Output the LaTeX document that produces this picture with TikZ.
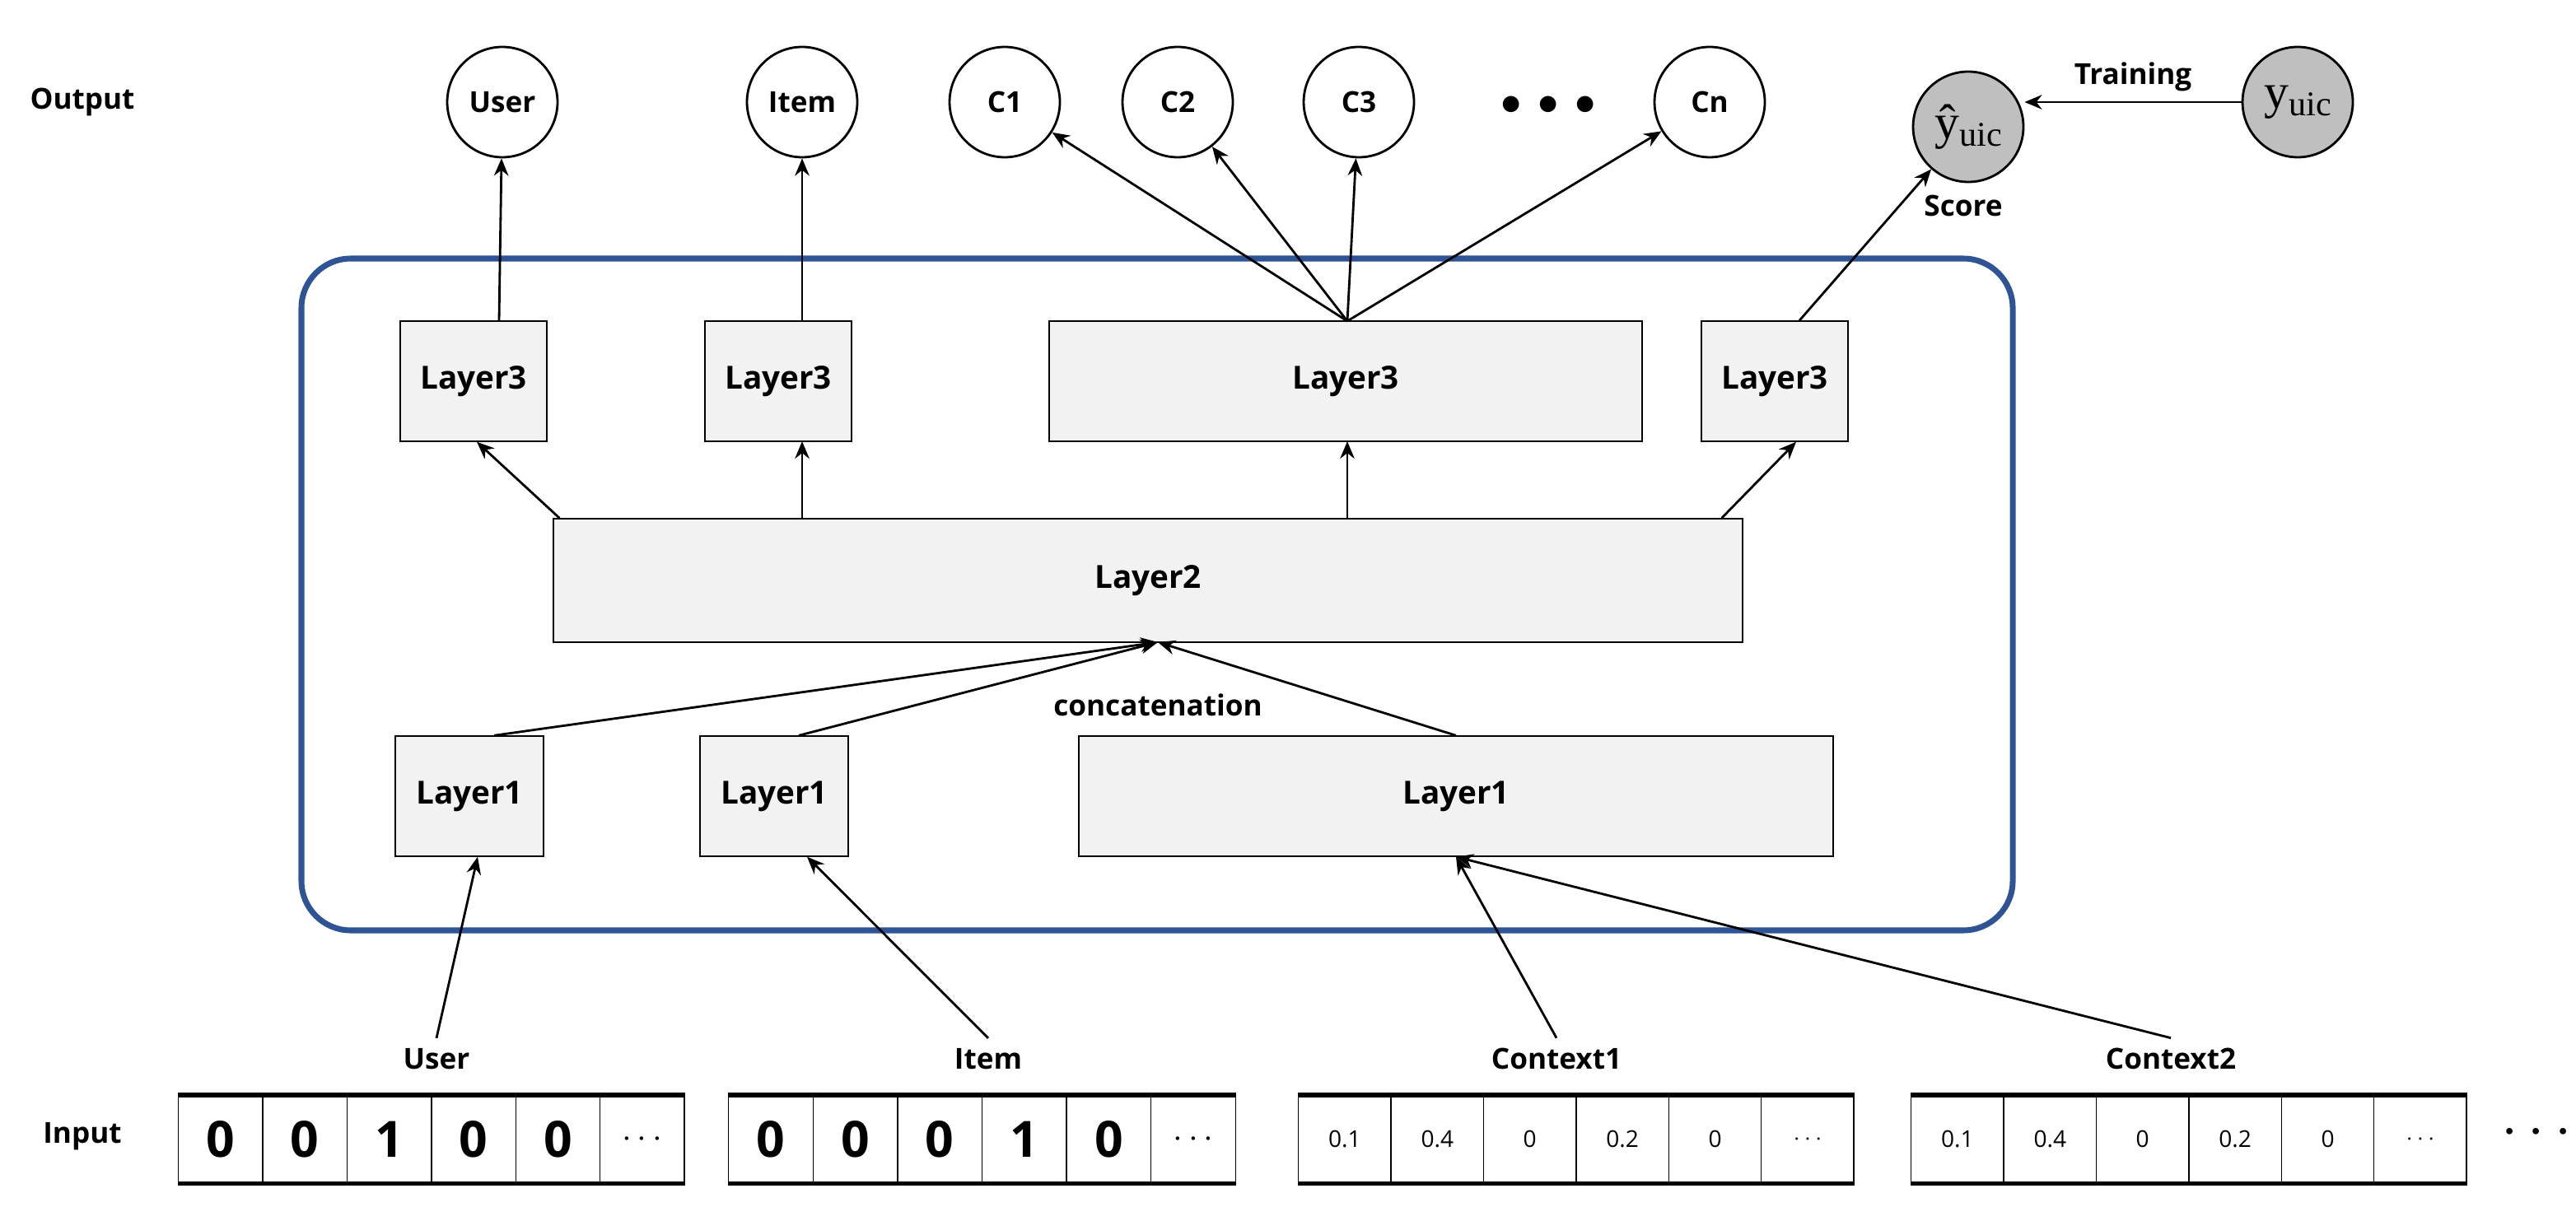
\documentclass[tikz,border=0pt]{standalone}
\usepackage{fontspec}
\setmainfont{Open Sans}
\newfontfamily\serif{Liberation Serif}
\usetikzlibrary{positioning,arrows.meta,calc}
\definecolor{boxblue}{RGB}{47,84,150}
\definecolor{boxgray}{RGB}{242,242,242}
\definecolor{outgray}{RGB}{191,191,191}
\tikzstyle{arr}=[-{Stealth[length=6pt,width=5pt]}, thick]
\tikzstyle{layerbox}=[draw, fill=boxgray, font=\fontsize{11}{13}\selectfont\bfseries, inner sep=0pt]
\tikzstyle{outnode}=[draw, thick, circle, minimum size=1.34cm, font=\fontsize{10}{12}\selectfont\bfseries, inner sep=0pt]
\tikzstyle{lbl}=[font=\fontsize{10}{12}\selectfont\bfseries]
\tikzstyle{cellbox}=[draw, minimum height=1.06cm, inner sep=0pt]
\newcommand{\yuic}[1]{{\serif\mdseries\fontsize{17}{19}\selectfont #1\raisebox{-0.35ex}{\fontsize{12}{13}\selectfont uic}}}
\newcommand{\vect}[5]{% name, left x, top y, cell width, entries
  \foreach \v [count=\i] in {#5} {
    \node[cellbox, minimum width={#4*0.02cm}, anchor=north west] (#1\i) at ({#2+(\i-1)*#4},#3) {\v};
  }
  \draw[line width=1.6pt] (#11.north west) -- (#16.north east);
  \draw[line width=1.6pt] (#11.south west) -- (#16.south east);
}
\begin{document}
\begin{tikzpicture}[x=0.02cm, y=-0.02cm]
  \useasboundingbox (0,0) rectangle (1564,733);

  % labels on the left
  \node[lbl] (outlabel) at (50,62) {Output};
  \node[lbl] (inlabel) at (50,690) {Input};

  % model frame
  \draw[boxblue, line width=2pt, rounded corners=0.6cm] (183,157) rectangle (1222,565);

  % output nodes
  \node[outnode] (ouser) at (305,62) {User};
  \node[outnode] (oitem) at (487,62) {Item};
  \node[outnode] (c1) at (610,62) {C1};
  \node[outnode] (c2) at (715,62) {C2};
  \node[outnode] (c3) at (825,62) {C3};
  \node[font=\Large\bfseries] (cdots) at (940,64) {$\bullet\,\bullet\,\bullet$};
  \node[outnode] (cn) at (1038,62) {Cn};
  \node[outnode, fill=outgray] (yhat) at (1195,77) {\yuic{\^{y}}};
  \node[outnode, fill=outgray] (ytrue) at (1395,62) {\yuic{y}};
  \node[lbl] (score) at (1192,125) {Score};
  \draw[arr] (ytrue.west) -- node[lbl, above] {Training} (yhat.east |- ytrue.west);

  % layer 3
  \node[layerbox, minimum width=1.78cm, minimum height=1.46cm] (l3a) at (287.5,231.5) {Layer3};
  \node[layerbox, minimum width=1.78cm, minimum height=1.46cm] (l3b) at (472.5,231.5) {Layer3};
  \node[layerbox, minimum width=7.2cm, minimum height=1.46cm] (l3c) at (817,231.5) {Layer3};
  \node[layerbox, minimum width=1.78cm, minimum height=1.46cm] (l3d) at (1077.5,231.5) {Layer3};

  % layer 2
  \node[layerbox, minimum width=14.44cm, minimum height=1.5cm] (l2) at (697,352.5) {Layer2};

  % layer 1
  \node[layerbox, minimum width=1.8cm, minimum height=1.46cm] (l1a) at (285,483.5) {Layer1};
  \node[layerbox, minimum width=1.8cm, minimum height=1.46cm] (l1b) at (470,483.5) {Layer1};
  \node[layerbox, minimum width=9.16cm, minimum height=1.46cm] (l1c) at (884,483.5) {Layer1};
  \node[lbl] (concat) at (703,428) {concatenation};

  % layer1 -> layer2
  \coordinate (join) at (703,390);
  \draw[arr] ($(l1a.north)+(15,0)$) -- (join);
  \draw[arr] ($(l1b.north)+(15,0)$) -- (join);
  \draw[arr] (l1c.north) -- (join);

  % layer2 -> layer3
  \draw[arr] ($(l2.north west)+(4,0)$) -- ($(l3a.south)+(2,0)$);
  \draw[arr] (487,315) -- (487,268);
  \draw[arr] (818,315) -- (818,268);
  \draw[arr] ($(l2.north east)+(-13,0)$) -- ($(l3d.south)+(13,0)$);

  % layer3 -> outputs
  \draw[arr] (303,195) -- (ouser);
  \draw[arr] (487,195) -- (oitem);
  \coordinate (fan) at (818,195);
  \draw[arr] (fan) -- (c1);
  \draw[arr] (fan) -- (c2);
  \draw[arr] (fan) -- (c3);
  \draw[arr] (fan) -- (cn);
  \draw[arr] ($(l3d.north)+(15,0)$) -- (yhat);

  % input vectors
  \vect{vu}{108}{665}{51.2}{\LARGE\bfseries 0,\LARGE\bfseries 0,\LARGE\bfseries 1,\LARGE\bfseries 0,\LARGE\bfseries 0,\large$\cdots$}
  \vect{vi}{442}{665}{51.3}{\LARGE\bfseries 0,\LARGE\bfseries 0,\LARGE\bfseries 0,\LARGE\bfseries 1,\LARGE\bfseries 0,\large$\cdots$}
  \vect{vc}{788}{665}{56.2}{\footnotesize 0.1,\footnotesize 0.4,\footnotesize 0,\footnotesize 0.2,\footnotesize 0,\footnotesize$\cdots$}
  \vect{vd}{1160}{665}{56.2}{\footnotesize 0.1,\footnotesize 0.4,\footnotesize 0,\footnotesize 0.2,\footnotesize 0,\footnotesize$\cdots$}
  \node[font=\huge\bfseries] (vdots) at (1540,688) {$\cdots$};

  % input labels
  \node[lbl] (iuser) at (265,643) {User};
  \node[lbl] (iitem) at (600,643) {Item};
  \node[lbl] (ictx1) at (945,643) {Context1};
  \node[lbl] (ictx2) at (1318,643) {Context2};

  % inputs -> layer1
  \draw[arr] (iuser.north) -- ($(l1a.south)+(5,0)$);
  \draw[arr] (iitem.north) -- ($(l1b.south)+(20,0)$);
  \draw[arr] (ictx1.north) -- (l1c.south);
  \draw[arr] (ictx2.north) -- (l1c.south);
\end{tikzpicture}
\end{document}
